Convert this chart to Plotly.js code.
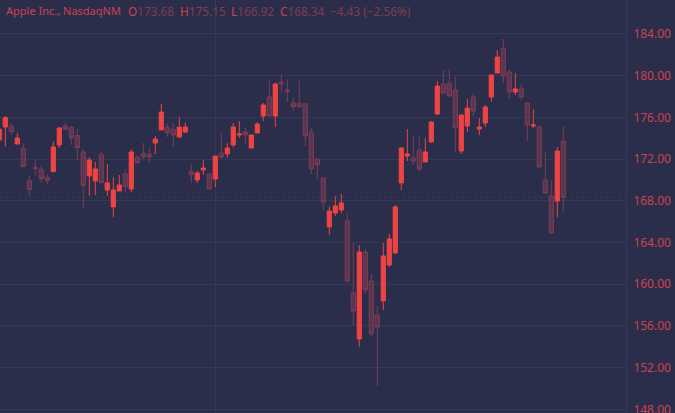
<!DOCTYPE html>
<html><head><meta charset="utf-8">
<script src="https://cdn.plot.ly/plotly-3.0.1.min.js"></script>
<style>html,body{margin:0;padding:0;background:#2b2e4a;overflow:hidden}#w{width:675px;height:413px;overflow:hidden}#c{width:675px;height:430px}</style>
</head><body><div id="w"><div id="c"></div></div>
<script>
const high=[174.98,176.13,175.42,174.50,173.51,170.38,171.91,171.40,170.57,173.70,175.07,175.55,175.17,174.88,172.93,172.17,171.72,172.68,171.53,170.28,170.47,171.05,172.93,172.39,173.54,173.16,174.21,177.28,175.42,175.42,176.03,175.46,171.53,170.86,171.91,170.57,172.29,174.59,173.51,175.46,175.65,175.04,174.31,175.55,177.37,179.48,179.29,180.15,179.67,177.85,179.48,177.37,174.98,172.01,170.18,167.41,168.46,168.65,166.83,163.95,163.76,163.38,160.98,157.92,163.95,164.82,167.60,173.12,174.88,174.31,174.11,174.02,175.65,179.48,180.54,180.63,179.87,176.32,177.76,178.33,175.94,177.18,180.06,182.45,183.51,180.54,180.25,179.19,177.47,176.80,175.17,172.68,169.99,173.16,175.15];
const open=[173.83,175.07,175.17,173.44,173.03,169.96,171.21,171.02,170.25,170.79,173.35,175.17,175.04,174.27,172.68,170.38,169.90,172.45,169.03,167.41,168.94,170.57,169.13,172.17,172.55,172.45,173.54,174.79,175.04,174.85,174.11,174.59,170.82,169.99,170.95,170.57,170.09,172.58,172.49,173.35,174.31,174.59,173.06,174.50,176.13,177.95,176.13,179.39,178.62,177.37,177.37,177.28,174.59,172.01,170.18,165.49,166.83,167.12,166.06,159.16,154.75,163.09,160.31,157.05,158.40,161.85,163.00,169.71,172.29,172.10,172.87,171.72,173.64,176.32,179.19,179.29,178.62,172.77,175.17,177.95,174.88,175.46,177.95,180.25,182.65,180.35,178.43,178.72,177.37,175.17,175.07,169.99,168.46,167.98,173.68];
const low=[173.83,173.19,174.34,173.44,171.27,168.46,170.38,169.74,169.64,170.79,173.06,174.72,173.35,171.91,167.21,168.46,168.56,169.74,168.46,166.45,168.94,168.84,168.84,171.53,172.01,171.72,172.49,174.79,174.11,173.25,174.11,174.50,169.71,169.71,170.47,169.13,169.32,172.01,172.13,173.12,174.02,173.44,173.06,174.50,175.65,176.13,175.07,178.33,177.47,176.61,176.89,173.25,170.57,170.09,167.12,164.72,166.54,166.83,160.12,156.00,153.99,159.07,155.04,150.25,157.53,161.65,162.90,169.03,171.81,171.43,170.79,171.72,173.54,176.22,178.24,178.04,172.68,172.49,174.59,176.13,174.31,175.07,177.47,180.25,179.29,177.85,178.14,177.66,173.73,174.98,171.24,168.65,164.91,166.45,166.92];
const close=[174.85,175.97,174.63,174.02,171.27,169.07,171.08,170.12,169.93,173.16,174.98,174.88,174.05,173.09,169.45,171.91,171.05,169.74,169.71,169.03,169.51,169.35,172.68,171.65,172.20,172.20,173.92,176.51,174.53,174.31,175.07,175.07,170.50,170.66,171.14,169.13,172.29,172.20,173.06,175.07,174.40,174.31,174.31,175.36,177.18,176.13,179.19,179.19,178.46,177.02,177.02,174.21,171.08,171.43,167.88,167.02,167.50,167.79,160.31,157.44,163.09,159.45,155.23,155.90,162.71,164.34,167.41,173.06,172.49,171.81,171.05,172.68,175.55,179.00,178.33,178.04,174.98,176.22,176.89,176.61,175.07,176.99,180.06,181.78,179.96,178.43,178.72,177.95,175.27,175.27,171.24,168.75,164.91,172.77,168.34];
const dates=high.map((_,i)=>i);
const priceTicks=[148,152,156,160,164,168,172,176,180,184];
const tickText=priceTicks.map(v=>v.toFixed(2));
const verticalGrid=[36];
const lastClose=168.34;
const seriesName="Apple Inc., NasdaqNM";
const headerParts=[["O","173.68"],["H","175.15"],["L","166.92"],["C","168.34"]];
const changeText="−4.43 (−2.56%)";

const BRIGHT="#ef4444", DIMTXT="#7f3c52", LABEL="#cb4250", GRID="#363858";
const span=(t,c)=>`<span style="color:${c}">${t}</span>`;
const headerX=[128,180,231,280];
const note=(text,px,size)=>({xref:"paper",yref:"paper",x:0,y:1,xanchor:"left",yanchor:"top",xshift:px-2,yshift:-1,
  showarrow:false,align:"left",text,font:{family:"Noto Sans",size,color:LABEL}});
const annotations=[note(span(seriesName,LABEL),6,11),
  ...headerParts.map((p,i)=>note(span(p[0],LABEL)+span(p[1],DIMTXT),headerX[i],11.8)),
  note(span(changeText,DIMTXT),330,11.8)];

Plotly.newPlot("c",[{
  type:"candlestick",x:dates,open,high,low,close,
  whiskerwidth:0,
  increasing:{line:{color:BRIGHT,width:1},fillcolor:BRIGHT},
  decreasing:{line:{color:"#7b3d55",width:1},fillcolor:"#5c3550"},
  hoverinfo:"none"
}],{
  width:675,height:430,
  margin:{l:0,r:49,t:0,b:17,pad:0},
  paper_bgcolor:"#2b2e4a",plot_bgcolor:"#2b2e4a",
  showlegend:false,boxgap:0.3,boxgroupgap:0,
  xaxis:{type:"linear",range:[0.117,104.45],tickmode:"array",tickvals:verticalGrid,showticklabels:false,
    ticks:"",showgrid:true,gridcolor:GRID,gridwidth:1,zeroline:false,showline:false,rangeslider:{visible:false}},
  yaxis:{side:"right",range:[147.65,187.25],tickmode:"array",tickvals:priceTicks,ticktext:tickText,
    tickfont:{family:"Noto Sans",size:12,color:LABEL},ticks:"outside",ticklen:4,tickcolor:"rgba(0,0,0,0)",
    showgrid:true,gridcolor:GRID,gridwidth:1,zeroline:false,showline:true,linecolor:GRID,linewidth:1,automargin:false},
  shapes:[{type:"line",xref:"paper",x0:0,x1:1,yref:"y",y0:lastClose,y1:lastClose,
    line:{color:"#3d3a58",width:1,dash:"dot"},layer:"below"}],
  annotations
},{displayModeBar:false,staticPlot:true});
</script></body></html>
